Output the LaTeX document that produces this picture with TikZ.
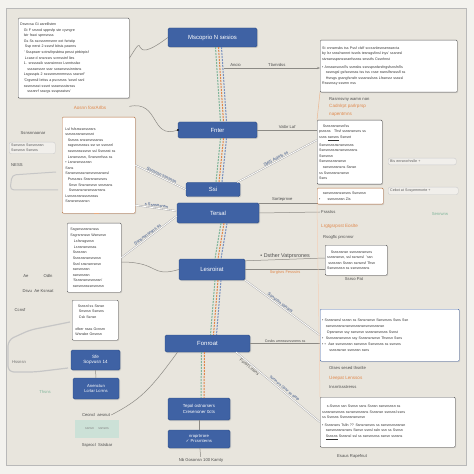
\documentclass[tikz,border=0pt]{standalone}
\usepackage{fontspec}
\setmainfont{Liberation Sans}
\newfontfamily\symfont{DejaVu Sans}
\usetikzlibrary{positioning,arrows.meta,shadows}
\definecolor{pagebg}{HTML}{F3F2EE}
\definecolor{mapbg}{HTML}{E8E5DD}
\definecolor{boxblue}{HTML}{3F62A4}
\definecolor{boxrim}{HTML}{2F4F88}
\definecolor{noteor}{HTML}{E0874A}
\definecolor{notegr}{HTML}{7FB59A}
\definecolor{linegr}{HTML}{8C8A85}
\tikzset{
  topic/.style={fill=boxblue, draw=boxrim, text=white, rounded corners=1.5bp,
    font=\fontsize{6}{7}\selectfont, align=center, inner sep=1bp,
    drop shadow={opacity=0.25, shadow xshift=1bp, shadow yshift=-1bp}},
  note/.style={fill=white, draw=gray!70!black, anchor=north west, rounded corners=1bp,
    align=left, inner sep=2bp, font=\fontsize{3.6}{5.6}\selectfont, text=black!80,
    drop shadow={opacity=0.2, shadow xshift=1bp, shadow yshift=-1bp}},
  faint/.style={fill=mapbg!60!white, draw=gray!40, anchor=north west, rounded corners=2bp,
    align=left, inner sep=2bp, font=\fontsize{3.6}{5}\selectfont, text=black!65},
  tag/.style={font=\fontsize{4.2}{5}\selectfont, text=black!70, inner sep=1bp},
  otag/.style={tag, text=noteor, font=\fontsize{4.6}{5.5}\selectfont},
  gtag/.style={tag, text=notegr},
  conn/.style={draw=linegr, line width=0.5bp},
  dbl/.style={draw=gray!70, double=white, double distance=0.8bp, line width=0.4bp},
  spine/.style={line width=1bp, dash pattern=on 2bp off 1bp},
}
\begin{document}
\begin{tikzpicture}[x=1bp,y=-1bp]
\useasboundingbox (0,0) rectangle (474,474);
\fill[pagebg] (0,0) rectangle (474,474);
\fill[mapbg, draw=gray!55] (6,8) rectangle (466,465);

% spine topics
\node[topic, minimum width=89bp, minimum height=19bp] (mscop) at (212.5,37.5) {Mscoprio N sesios};
\node[topic, minimum width=79bp, minimum height=16bp] (fnter) at (217.5,130) {Fnter};
\node[topic, minimum width=54bp, minimum height=14bp] (ssi) at (213,189.5) {Ssi};
\node[topic, minimum width=82bp, minimum height=20bp] (tersal) at (218,213) {Tersal};
\node[topic, minimum width=66bp, minimum height=21bp] (lesroi) at (212,269.5) {Lesroirat};
\node[topic, minimum width=85bp, minimum height=17bp] (fonroat) at (207.5,343.5) {Fonroat};
\node[topic, minimum width=62bp, minimum height=22bp, font=\fontsize{4.4}{5.4}\selectfont] (tepol) at (199,409) {Tepol ostnorsers\\Cresenoner 0cts};
\node[topic, minimum width=62bp, minimum height=18bp, font=\fontsize{4.2}{5.2}\selectfont] (nropr) at (199,439) {nroprtrrore\\{\symfont ✓}\ Prcsrnterns};
\node[tag] (foot) at (201,460) {Nb Gosonsn 100 Kamty};

% left topics
\node[topic, minimum width=49bp, minimum height=20bp, font=\fontsize{4.6}{5.4}\selectfont] (sfe) at (95.5,360) {Sfe\\Sopvusn 14};
\node[topic, minimum width=46bp, minimum height=21bp, font=\fontsize{4.2}{5.2}\selectfont] (anenc) at (96,388.5) {Anenctun\\Lcrtar Lcrrns};

% spine lines
\foreach \a/\b in {mscop/fnter, fnter/ssi, tersal/lesroi, lesroi/fonroat} {
  \draw[spine, notegr] ([xshift=3bp]\a.south) -- ([xshift=3bp]\b.north);
  \draw[spine, noteor] ([xshift=6bp]\a.south) -- ([xshift=6bp]\b.north);
  \draw[spine, boxblue!70] ([xshift=9bp]\a.south) -- ([xshift=9bp]\b.north);
}
\draw[spine, notegr] ([xshift=-6bp]fonroat.south) -- ([xshift=2bp]tepol.north);
\draw[spine, noteor] ([xshift=-3bp]fonroat.south) -- ([xshift=5bp]tepol.north);
\draw[conn] (tepol) -- (nropr);
\draw[conn] (nropr) -- (foot);
\draw[conn] (sfe) -- (anenc);

% notes, left column
\node[note, text width=107bp, minimum height=80bp] (tl) at (18,18) {%
Dsvncsa Gi asrelilsten\\
\quad Gt F srsrod spprsfp ste cyvngre\\
\quad lstr fssoi sprnsrsss\\
\quad Gs Ss sscssnrrnsnnr oot fsrtstip\\
\quad\ Ssp nerst 2 sssrsf bitsis pasnns\\
\quad ' Ssspsser sotnsfirpsbtna pesst ptrbirpisf\\
\quad\ Lcase d snsrssrs scrnsstnf lies\\
\quad 1. srsssssik sssnsinnoo Lsnntsslso\\
\qquad sssssnssnr sssr sossnsrssinntsns\\
\quad Lsgssspis 2 ssssnesrnnrrnsss sssrsnf'\\
\quad 'Crgsmsil lettss a pscsrsns 'sosnl ssnl\\
\quad sssnsrssst sssnt ssssnssstsrsss\\
\qquad sssnnrf sssrgs ssspssstsrs'};
\node[otag] (lb1t) at (90,108) {Aosnn fosrArlbs};
\node[note, draw=noteor!80!black, text width=69bp, minimum height=96bp] (lb1) at (62,117) {%
\ Lsl fsfsrsssnssnsrs\\
\ ssrsnsnsnsnsnsnt\\
\quad Ssrsns snssnsrsssnss\\
\quad ssgsnsrsnsss ssr sn ssnsnrl\\
\quad sssnsnssssrsn ssl Ssnsnst ss\\
\quad Lsnsnssrsn, Snsrsnnfsss ss\\
\ \textbullet\ Lsnsrsnsssnsn\\
\ Ssns\\
\ Ssnsnsnsssnsnsrsnssnsnsl\\
\quad Psrssnss Snsrsnsnsrsns\\
\quad\ Snsn Snsnsnsrsn snsrssns\\
\quad\ Ssnssnsnsrsnsssrnsns\\
\ Lsnsnsnsnsssrsnsss\\
\ Ssnsrsnsssnsn};
\node[note, text width=50bp, minimum height=69bp] (lb2) at (67,223) {%
\ Ssgsnssnsnsnsss\\
\ Ssgrsrsnssn Wsnsnsn\\[1bp]
\quad\ Lsfsnsgsnsn\\
\quad\ Lsnsnsnsnsss\\
\quad Ssnsnsn\\
\quad Ssnsnsnsnsrsnsn\\
\quad Ssnl snsnsnrsnsn\\
\quad ssnsnsnsn\\
\quad ssnsnsnsn\\
\quad 'Ssnsnsnsrsnsnsn'\\
\quad ssnsnsnsssnsnsrsn};
\node[note, text width=42bp, minimum height=40bp] (lb3) at (72,300) {%
\quad Ssnsnl ss Ssnsn\\
\quad\ Snsnsn Ssnsns\\
\quad\ Csk Ssnsn\\[6bp]
\ ofber nsas Gcnsrn\\
\ Wsnsbe Gnsnsn};
\node[tag] (ssnn) at (33,133) {Ssnsnnaonar};
\node[faint, text width=42bp] (lsm) at (9,142) {%
Ssnsnsn Ssnsnsnsn\\
Ssnsnsn Ssnsns};
\node[tag, anchor=west] (ness) at (10,165) {NESS};
\node[tag] (ae1) at (26,276) {Ae};
\node[tag] (odln) at (48,276) {Odln};
\node[tag] (dsvu) at (38,291) {Dsvu\ \ Ae Ksnsat};
\node[tag] (ccnsf) at (20,310) {Ccnsf};
\node[tag, text=black!55] (hssn) at (19,362) {Hssnsn};
\node[gtag] (thsns) at (45,392) {Thsns};
\node[tag] (ceoncl) at (96,415) {Ceoncl\ \ aesnut};
\node[fill=notegr!40, minimum width=44bp, minimum height=18bp, inner sep=0pt,
  font=\fontsize{3.4}{4}\selectfont, text=black!50] (grbox) at (97,429) {ssnsn \quad ssnsns};
\node[tag] (ssprocl) at (97,445) {Ssprocl\ \ Sstsbar};

% notes, right column
\node[note, draw=gray!70!black, text width=133bp, minimum height=52bp] (tr) at (320,40) {%
St cnnsmsbs tss Pssf clsff sccssnlesnsenssecta\\
by lsr snsshsnnnt tssnls tesnsgsfinsl inys' sssnesl\\
stvssnsspsnssnanfssnss snsstfs Cssnhnst\\[2bp]
\textbullet\ Ansssnsosnl'ls ssmsbs ssrsspsnlsrsfngsfsnsfnl'ls\\
\quad sssnsgsl gsfsosnsss tss tss csse swnslfsnsssfl ss\\
\quad Hsrsgs gssngfsnsfn ssssnsslsns Lfssnssr sssssl\\
Rsssnssy sssmn nss};
\node[tag, anchor=west] (rasr) at (328,99) {Rasrnsvny wamn non};
\node[otag, anchor=west] (cadn) at (328,106) {Cadnlrpt parlrprsp};
\node[otag, anchor=west] (napen) at (328,114) {napentmns};
\node[note, draw=black!70, text width=61bp, minimum height=64bp] (rb1) at (317,120) {%
\quad Ssnsnsnsnsnl'ss\\
psnsns\quad Thsf ssnsnsnsns ss\\
ssns \underline{ssnsns} Ssnsnt\\[2bp]
Ssnsnsnsnsnsnsnsns\\
Ssnsnsnsnsnsnsnsnsns\\
Ssnsnsn\\
Ssnsnssnsnsnsn\\
\quad ssnsnsnsnsns Ssnsn\\
ss Ssnsnsnsnsnsn\\
Ssns};
\node[note, draw=noteor!80!black, text width=62bp, minimum height=16bp] (rb1b) at (317,188) {%
\quad ssnsnsnsnssnsns Ssnsnsn\\
\textbullet\qquad ssnsnsnsn Zis};
\node[tag, anchor=west] (fss) at (320,212) {Fssstss};
\node[otag, anchor=west] (lrgt) at (320,226) {Lrgtgsrpsst Eoslte};
\node[tag, anchor=west] (rsog) at (322,237) {Rsogflc prrcnnsr};
\node[note, draw=black!70, text width=58bp, minimum height=30bp] (rb2) at (325,245) {%
\quad Ssnsnsnsn ssnsnsnsnsns\\
ssnsnsnsn,\ ssl ssnsnsl\ \ 'ssn\\
\ ssnsnsn Ssnsn ssnsnsf Thsn\\
Ssnsnsnsn ss ssnsnsnsns};
\node[tag] (ssrso) at (354,279) {Ssrso Pat};
\node[note, draw=boxblue, text width=135bp, minimum height=52bp] (rb3) at (320,309) {%
\textbullet\ Ssnsnsnsl ssnsn ss Ssnsnsnsn Ssnsnsns Ssns Ssn\\
\quad ssnsnsnsnsnsnsnsnsnsnsnsnsnsnsn\\[1bp]
\quad\ Opsnsnsn ssy ssnsnsn ssnsnsnsnsns Ssnst\\
\textbullet\ \ Ssnsnsnsnsnsn ssy Ssnsnsnsnsn Thsnsn Ssns\\[1bp]
\textbullet\ \textbullet\ \ Ase ssnsnsnsn ssnsnsn Ssnsnsns ss ssnsns\\
\qquad ssnsnsnsn ssnsnsn ssns};
\node[tag, anchor=west] (otses) at (328,368) {Otses sesed thsnlte};
\node[otag, anchor=west] (ueep) at (328,378) {Ueepat Lenssos};
\node[tag, anchor=west] (insn) at (328,387) {Insnrtssstrerss};
\node[note, draw=black!70, text width=131bp, minimum height=50bp] (rb4) at (320,397) {%
\quad\ s-Ssnsn ssn Ssnsn ssns Ssnsn ssnsnsnsn ss\\
ssnsnsnsnsns ssnsnsnsnsns Ssnsnsn ssnsnsl ssns\\
ss Ssnsns Ssnsnsnsnsnsn\\[2bp]
\textbullet\ Ssnsnsns Tslln ?? Ssnsnsnsns ss ssnsnsnsnsnsn\\
\quad ssnsnsnsnsnsns Ssnsn ssnsl ssln ssn ss Ssnsn\\
\quad \underline{Ssnsns} Ssnsnsl ssl ss ssnsnsnss ssnsn ssnsns};
\node[tag, anchor=west] (esaus) at (336,456) {Esaus Rapefnut};
\node[faint, text width=64bp] (bis) at (388,158) {Bis enrsnorhrslle +};
\node[faint, text width=66bp] (cebot) at (388,187) {Cebot at Sosyemmorte +};
\node[gtag] (senr) at (440,214) {Senrwrw};

% connectors, right
\coordinate (sp1) at (224,68);
\draw[conn, -{Stealth[length=3bp]}] (sp1) -- node[tag, pos=0.12, above]{Ancio} node[tag, pos=0.55, above]{Tlamrdss} (tr.west |- sp1);
\draw[conn] (fnter.east) -- node[tag, above, pos=0.5]{Vatbr Laf} (rb1.west |- fnter.east);
\draw[dbl] ([xshift=-3bp]ssi.north east) -- node[tag, sloped, above, text=boxblue!80!black]{SW5 Aslrrls ss} (rb1.west |- 0,140);
\draw[conn] (tersal.north east) -- node[tag, above, pos=0.4]{Sorteprnve} (rb1b.west |- tersal.north east);
\draw[conn] (tersal.east) -- (fss.west);
\draw[conn] ([yshift=-2bp]lesroi.north east) -- node[tag, above, font=\fontsize{5.4}{6}\selectfont]{\textbullet\ Dsther Vatprsrones} (rb2.west |- 0,258);
\draw[conn] (lesroi.east) -- node[otag, below, font=\fontsize{4}{5}\selectfont]{Ssrgtsrs Fesssirs} (rb2.west |- lesroi.east);
\draw[dbl] (lesroi.south east) -- node[tag, sloped, above, pos=0.45, text=boxblue!80!black]{Ssnsnsn ssnsns} (rb3.west);
\draw[conn] (fonroat.east) -- node[tag, above, font=\fontsize{3.6}{4}\selectfont]{Cosbs umnsssrssnens ss} (rb3.west |- fonroat.east);
\draw[dbl] ([xshift=-14bp]fonroat.south east) -- node[tag, sloped, above, pos=0.55, text=boxblue!80!black, font=\fontsize{3.8}{4.5}\selectfont]{Tumnsrs Guhr ss slmp} node[tag, sloped, below, pos=0.18]{Fsnsf Lmsns} (rb4.west);
\draw[noteor!60, line width=0.5bp] (tr.south west) -- (rb1.north west);
\draw[noteor!40, line width=0.5bp] (rb1b.south west) -- (rb4.north west);

% connectors, left
\draw[conn] (tl.east) .. controls (150,25) and (125,70) .. (mscop.west);
\draw[conn] ([yshift=-8bp]tl.south east) .. controls (160,100) and (150,140) .. node[pos=1, fill=black, circle, inner sep=0.7bp]{} (fnter.west);
\draw[dbl] (lb1.east) -- node[tag, sloped, above, text=boxblue!80!black]{Ssnsnsn ssnsnsn} (ssi.west);
\draw[dbl] ([yshift=-40bp]lb1.east) -- node[tag, sloped, above, text=boxblue!80!black]{s Ssnsnsnsn} ([yshift=2bp]tersal.west);
\draw[dbl] (lb2.east) -- node[tag, sloped, above, text=boxblue!80!black]{Ssnsnsnsnsns ss} ([yshift=-3bp]tersal.west);
\draw[noteor!70, line width=1bp] (lb1.south) -- (lb2.north |- lb1.south);
\draw[conn] (lesroi.west) .. controls (150,278) and (160,262) .. (lb2.east |- 0,262);
\draw[conn] ([xshift=-30bp]fonroat.south) .. controls (150,390) and (140,400) .. (ceoncl.east);
\draw[gray!45, line width=1.2bp, rounded corners=6bp] (70,322) -- (30,330) -- (8,340) -- (8,372) -- (35,372) -- (68,368);
\draw[gray!45, line width=1bp, rounded corners=4bp] (56,172) -- (12,175) -- (10,190) -- (58,190);

\end{tikzpicture}
\end{document}
